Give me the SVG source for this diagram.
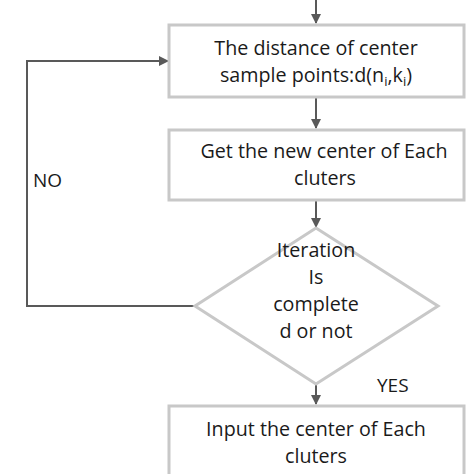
<svg xmlns="http://www.w3.org/2000/svg" width="474" height="474" viewBox="0 0 474 474">
<defs>
<marker id="ah" markerWidth="10" markerHeight="10" refX="9" refY="5" orient="auto" markerUnits="userSpaceOnUse">
<path d="M0,0 L10,5 L0,10 Z" fill="#595959"/>
</marker>
<style>
.box{fill:#fff;stroke:#c8c8c8;stroke-width:3}
.t{font-family:"Open Sans","Noto Sans",sans-serif;font-size:19.7px;fill:#1a1a1a;text-anchor:middle}
.lbl{font-family:"Open Sans","Noto Sans",sans-serif;font-size:19px;fill:#1a1a1a}
.c{fill:none;stroke:#595959;stroke-width:2}
</style>
</defs>
<rect width="474" height="474" fill="#fff"/>
<g id="connectors">
<line class="c" x1="316" y1="0" x2="316" y2="23" marker-end="url(#ah)"/>
<line class="c" x1="316" y1="98" x2="316" y2="128" marker-end="url(#ah)"/>
<line class="c" x1="316" y1="201" x2="316" y2="227" marker-end="url(#ah)"/>
<line class="c" x1="316" y1="385" x2="316" y2="404" marker-end="url(#ah)"/>
<polyline class="c" points="195,306 27,306 27,61 168,61" marker-end="url(#ah)"/>
<text class="lbl" x="33" y="187">NO</text>
<text class="lbl" x="377" y="392">YES</text>
</g>
<g id="n1">
<rect class="box" x="169" y="25" width="295" height="72"/>
<text class="t" x="316" y="55">The distance of center</text>
<text class="t" x="316" y="82">sample points:d(n<tspan font-size="13" dy="4">i</tspan><tspan dy="-4">,k</tspan><tspan font-size="13" dy="4">i</tspan><tspan dy="-4">)</tspan></text>
</g>
<g id="n2">
<rect class="box" x="169" y="130" width="295" height="70"/>
<text class="t" x="324" y="158">Get the new center of Each</text>
<text class="t" x="325" y="185">cluters</text>
</g>
<g id="n3">
<polygon class="box" points="316,228 438,306 316,384 195,306"/>
<text class="t" x="316" y="257">Iteration</text>
<text class="t" x="316" y="284">Is</text>
<text class="t" x="316" y="311">complete</text>
<text class="t" x="316" y="338">d or not</text>
</g>
<g id="n4">
<rect class="box" x="169" y="406" width="295" height="80"/>
<text class="t" x="316" y="436">Input the center of Each</text>
<text class="t" x="316" y="463">cluters</text>
</g>
</svg>
